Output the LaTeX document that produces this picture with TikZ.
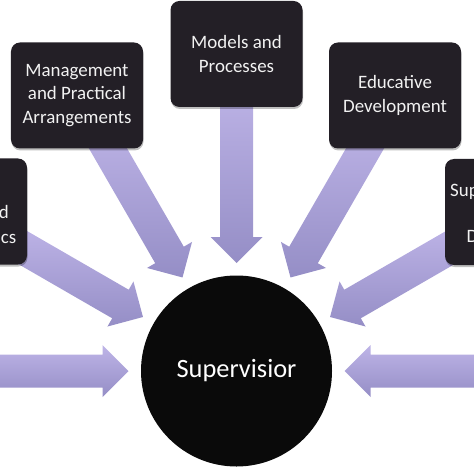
\documentclass[tikz,border=0pt]{standalone}
\usepackage{fontspec}
\setmainfont{Carlito}
\usetikzlibrary{shadows}
\definecolor{boxfill}{HTML}{231F26}
\definecolor{arrowlight}{HTML}{BEB4E7}
\definecolor{arrowdark}{HTML}{958EC6}
\definecolor{boxtext}{HTML}{F2F2F2}
\definecolor{hubfill}{HTML}{0A0A0A}
\tikzset{
  infobox/.style={fill=boxfill, rounded corners=9bp, minimum width=132bp, minimum height=106bp,
    text=boxtext, align=center, font=\fontsize{19}{23.5}\selectfont, inner sep=0pt,
    drop shadow={shadow xshift=0.5bp, shadow yshift=-2bp, opacity=0.25, fill=black}},
  fragment/.style={text=boxtext, font=\fontsize{19}{23.5}\selectfont, inner sep=0pt},
  hub/.style={circle, fill=hubfill, minimum size=191bp, inner sep=0pt, text=white,
    font=\fontsize{26.5}{30}\selectfont},
  blockarrow/.style={top color=arrowlight, bottom color=arrowdark, draw=none},
}
\begin{document}
\begin{tikzpicture}[x=1bp,y=-1bp]
\useasboundingbox (0,0) rectangle (474,474);
\clip (0,0) rectangle (474,474);
\node[hub] (sup) at (236.5,371) {Supervisior};
\foreach \a/\rs in {180/260,150/265,120/285,90/290,60/285,30/265,0/260}{
  \begin{scope}[shift={(sup.center)}, rotate=\a]
    \shade[blockarrow] (\rs,-16.5) -- (134,-16.5) -- (134,-26) -- (108,0)
      -- (134,26) -- (134,16.5) -- (\rs,16.5) -- cycle;
  \end{scope}
}
\node[infobox] (models) at (236.5,54) {Models and\\Processes};
\node[infobox] (mgmt) at (77,95.5) {Management\\and Practical\\Arrangements};
\node[infobox] (edu) at (395,95.5) {Educative\\Development};
\node[infobox] (leftbox) at (-39,211.5) {};
\node[infobox] (rightbox) at (511,212) {};
\node[fragment, anchor=base east] (fd) at (9,219) {d};
\node[fragment, anchor=base east] (fcs) at (16.5,243) {cs};
\node[fragment, anchor=base west] (fsup) at (450,197) {Sup};
\node[fragment, anchor=base west] (fD) at (466.5,242) {D};
\end{tikzpicture}
\end{document}
